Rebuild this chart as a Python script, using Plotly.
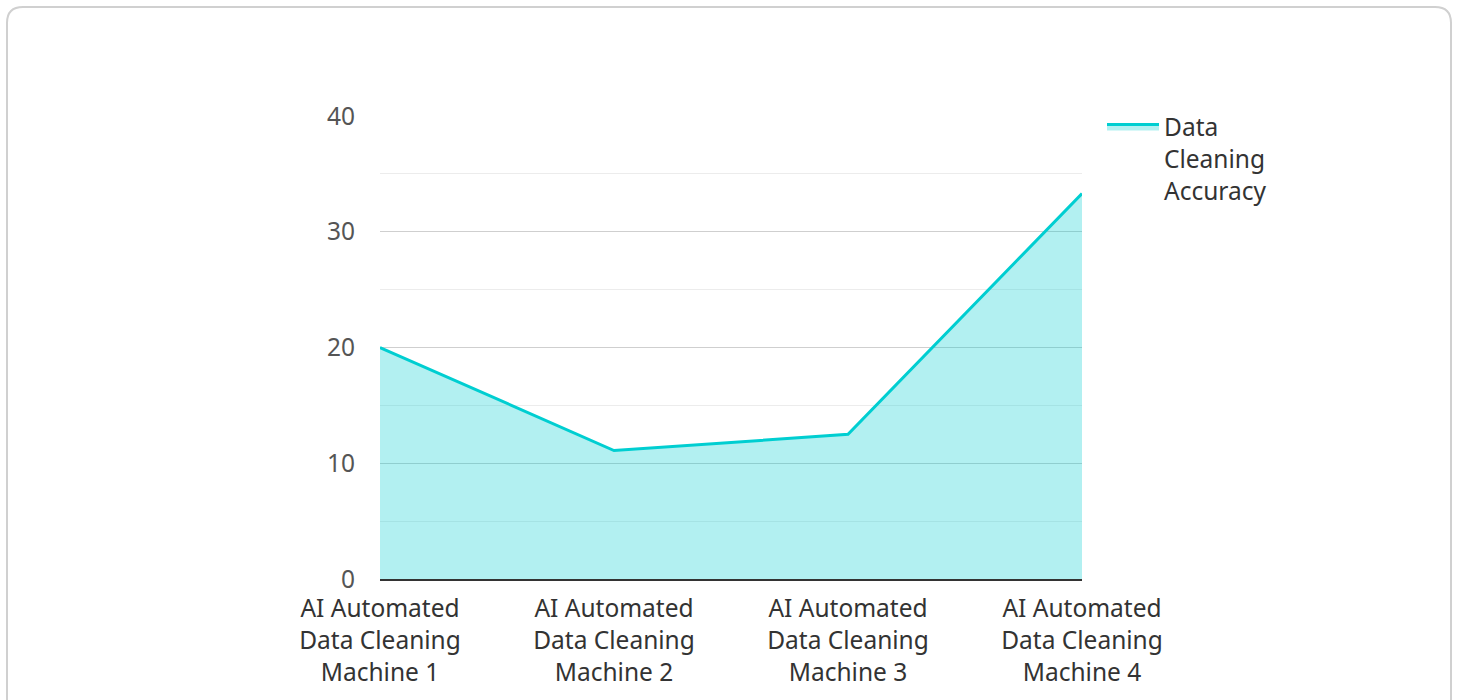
import plotly.graph_objects as go

categories = ["AI Automated<br>Data Cleaning<br>Machine 1",
              "AI Automated<br>Data Cleaning<br>Machine 2",
              "AI Automated<br>Data Cleaning<br>Machine 3",
              "AI Automated<br>Data Cleaning<br>Machine 4"]
accuracy = [20, 11.1, 12.5, 33.3]
series_name = "Data<br>Cleaning<br>Accuracy"
y_ticks = [0, 10, 20, 30, 40]

W, H = 1458, 700
ml, mr, mt, mb = 380, 376, 116, 117
pw, ph = W - ml - mr, H - mt - mb

def px_x(p):
    return (p - ml) / pw

def px_y(p):
    return (H - mb - p) / ph

# rounded card border path in paper coords
x0, x1, y0, y1, r = 7, 1451, 6, 730, 16
path = (f"M {px_x(x0+r)},{px_y(y0)} L {px_x(x1-r)},{px_y(y0)} "
        f"Q {px_x(x1)},{px_y(y0)} {px_x(x1)},{px_y(y0+r)} "
        f"L {px_x(x1)},{px_y(y1-r)} Q {px_x(x1)},{px_y(y1)} {px_x(x1-r)},{px_y(y1)} "
        f"L {px_x(x0+r)},{px_y(y1)} Q {px_x(x0)},{px_y(y1)} {px_x(x0)},{px_y(y1-r)} "
        f"L {px_x(x0)},{px_y(y0+r)} Q {px_x(x0)},{px_y(y0)} {px_x(x0+r)},{px_y(y0)} Z")

FS = 24.5

fig = go.Figure()
fig.add_trace(go.Scatter(
    x=categories, y=accuracy, name=series_name, mode="lines",
    line=dict(color="#00CED1", width=3),
    fill="tozeroy", fillcolor="rgba(0,206,209,0.3)",
    showlegend=True,
))

fig.update_layout(
    width=W, height=H,
    margin=dict(l=ml, r=mr, t=mt, b=mb),
    paper_bgcolor="white", plot_bgcolor="white",
    font=dict(family="Noto Sans", size=FS, color="#333"),
    legend=dict(x=px_x(1102), y=px_y(104), xanchor="left", yanchor="top",
                valign="top", itemwidth=52,
                font=dict(size=FS, color="#333"), bgcolor="rgba(0,0,0,0)"),
    shapes=[dict(type="path", xref="paper", yref="paper", path=path,
                 line=dict(color="#d0d0d0", width=2), layer="below")],
    xaxis=dict(type="category", range=[0, 3], showgrid=False,
               showline=True, linecolor="#333", linewidth=2,
               ticks="", ticklabelstandoff=7,
               tickfont=dict(size=FS, color="#333"),
               zeroline=False),
    yaxis=dict(range=[0, 40], tickvals=y_ticks, showgrid=True,
               gridcolor="#cfcfcf", gridwidth=1, zeroline=False,
               showline=False, ticks="", ticklabelstandoff=24,
               tickfont=dict(size=FS, color="#555"),
               minor=dict(dtick=5, showgrid=True, gridcolor="#ececec", gridwidth=1)),
)

fig.write_html("out.html", config={"displayModeBar": False},
               post_script="document.body.style.margin='0px';")
